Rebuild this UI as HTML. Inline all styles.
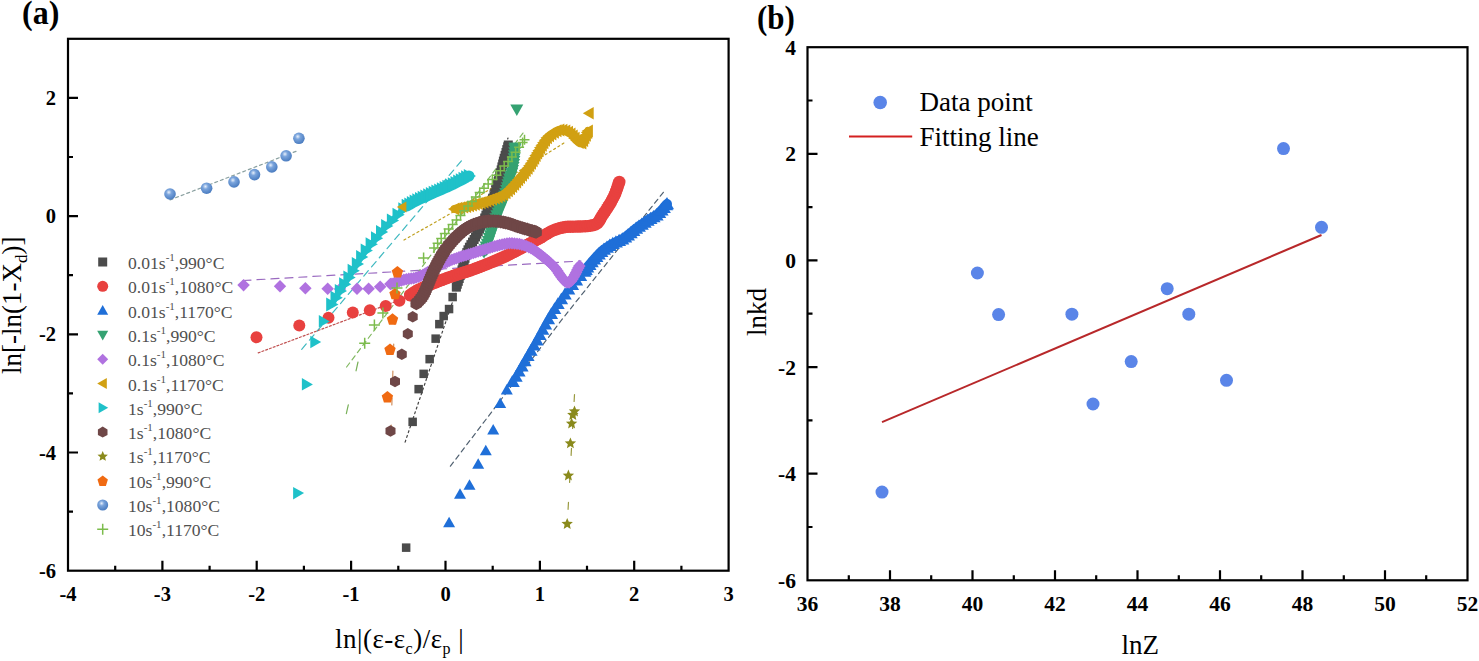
<!DOCTYPE html><html><head><meta charset="utf-8"><style>html,body{margin:0;padding:0;background:#fff;width:1479px;height:661px;overflow:hidden}svg{display:block}</style></head><body>
<svg width="1479" height="661" viewBox="0 0 1479 661" font-family="'Liberation Serif', serif">
<defs><radialGradient id="sph" cx="0.4" cy="0.35" r="0.65"><stop offset="0" stop-color="#e8f0fb"/><stop offset="0.35" stop-color="#7aa4dc"/><stop offset="1" stop-color="#4a7cc0"/></radialGradient></defs>
<polyline points="170.0,199.9 297.3,150.8" fill="none" stroke="#8aa0a0" stroke-width="1.2" stroke-linejoin="round" stroke-linecap="round" stroke-dasharray="3,3" opacity="1"/>
<polyline points="301.7,349.3 463.0,159.0" fill="none" stroke="#3fb9c0" stroke-width="1.2" stroke-linejoin="round" stroke-linecap="round" stroke-dasharray="7,5" opacity="1"/>
<polyline points="243.0,280.5 581.0,261.0" fill="none" stroke="#9a6ac0" stroke-width="1.2" stroke-linejoin="round" stroke-linecap="round" stroke-dasharray="8,6" opacity="1"/>
<polyline points="258.2,352.9 440.0,285.0" fill="none" stroke="#c05050" stroke-width="1.2" stroke-linejoin="round" stroke-linecap="round" stroke-dasharray="2,2" opacity="1"/>
<polyline points="405.1,442.1 444.5,325.6 508.0,138.0" fill="none" stroke="#444" stroke-width="1.2" stroke-linejoin="round" stroke-linecap="round" stroke-dasharray="2,3" opacity="1"/>
<polyline points="450.4,466.2 563.6,317.4 665.4,189.7" fill="none" stroke="#506070" stroke-width="1.2" stroke-linejoin="round" stroke-linecap="round" stroke-dasharray="5,4" opacity="1"/>
<polyline points="346.6,367.0 523.0,133.0" fill="none" stroke="#80b860" stroke-width="1.2" stroke-linejoin="round" stroke-linecap="round" stroke-dasharray="5,4" opacity="1"/>
<polyline points="404.0,240.0 455.0,211.0 564.0,143.0" fill="none" stroke="#c0a020" stroke-width="1.2" stroke-linejoin="round" stroke-linecap="round" stroke-dasharray="2,3" opacity="1"/>
<polyline points="391.0,432.0 396.0,270.0" fill="none" stroke="#d09060" stroke-width="1.2" stroke-linejoin="round" stroke-linecap="round" stroke-dasharray="7,20" opacity="1"/>
<polyline points="574.5,394.5 567.2,525.0" fill="none" stroke="#9a9a40" stroke-width="1.2" stroke-linejoin="round" stroke-linecap="round" stroke-dasharray="7,20" opacity="1"/>
<polyline points="358.0,362.0 344.0,424.0" fill="none" stroke="#78b058" stroke-width="1.2" stroke-linejoin="round" stroke-linecap="round" stroke-dasharray="9,35" opacity="1"/>
<rect x="401.9" y="543.4" width="8.5" height="8.5" fill="#4b4b4b"/>
<rect x="408.4" y="417.6" width="8.5" height="8.5" fill="#4b4b4b"/>
<rect x="414.4" y="384.9" width="8.5" height="8.5" fill="#4b4b4b"/>
<rect x="419.4" y="369.6" width="8.5" height="8.5" fill="#4b4b4b"/>
<rect x="425.4" y="354.9" width="8.5" height="8.5" fill="#4b4b4b"/>
<rect x="431.4" y="334.4" width="8.5" height="8.5" fill="#4b4b4b"/>
<rect x="435.1" y="319.9" width="8.5" height="8.5" fill="#4b4b4b"/>
<rect x="439.4" y="311.8" width="8.5" height="8.5" fill="#4b4b4b"/>
<rect x="444.8" y="304.8" width="8.5" height="8.5" fill="#4b4b4b"/>
<rect x="448.4" y="292.8" width="8.5" height="8.5" fill="#4b4b4b"/>
<rect x="452.1" y="282.8" width="8.5" height="8.5" fill="#4b4b4b"/>
<polyline points="456.3,287.0 456.9,285.2 457.8,282.6 458.8,279.6 459.9,276.4 461.0,273.1 462.0,270.0 462.8,267.0 463.6,264.0 464.3,260.9 465.1,257.9 465.9,254.9 467.0,252.0 468.3,249.3 469.7,246.7 471.2,244.2 472.8,241.6 474.4,238.9 476.0,236.0 477.6,232.8 479.3,229.4 481.0,225.9 482.7,222.3 484.4,218.6 486.0,215.0 487.6,211.5 489.1,208.1 490.6,204.7 492.1,201.1 493.6,197.2 495.0,193.0 496.5,188.1 497.9,182.7 499.4,177.0 500.8,171.3 502.1,166.1 503.3,161.6 504.4,157.8 505.4,154.4 506.3,151.3 507.1,148.8 507.8,146.6 508.3,145.0" fill="none" stroke="#4b4b4b" stroke-width="6" stroke-linejoin="round" stroke-linecap="round" opacity="1"/>
<rect x="451.8" y="282.5" width="9.0" height="9.0" fill="#4b4b4b"/>
<rect x="452.8" y="279.7" width="9.0" height="9.0" fill="#4b4b4b"/>
<rect x="453.8" y="276.8" width="9.0" height="9.0" fill="#4b4b4b"/>
<rect x="454.7" y="274.0" width="9.0" height="9.0" fill="#4b4b4b"/>
<rect x="455.7" y="271.1" width="9.0" height="9.0" fill="#4b4b4b"/>
<rect x="456.6" y="268.3" width="9.0" height="9.0" fill="#4b4b4b"/>
<rect x="457.5" y="265.4" width="9.0" height="9.0" fill="#4b4b4b"/>
<rect x="458.3" y="262.5" width="9.0" height="9.0" fill="#4b4b4b"/>
<rect x="459.0" y="259.6" width="9.0" height="9.0" fill="#4b4b4b"/>
<rect x="459.7" y="256.7" width="9.0" height="9.0" fill="#4b4b4b"/>
<rect x="460.5" y="253.8" width="9.0" height="9.0" fill="#4b4b4b"/>
<rect x="461.3" y="250.9" width="9.0" height="9.0" fill="#4b4b4b"/>
<rect x="462.3" y="248.1" width="9.0" height="9.0" fill="#4b4b4b"/>
<rect x="463.5" y="245.3" width="9.0" height="9.0" fill="#4b4b4b"/>
<rect x="464.9" y="242.7" width="9.0" height="9.0" fill="#4b4b4b"/>
<rect x="466.4" y="240.1" width="9.0" height="9.0" fill="#4b4b4b"/>
<rect x="468.0" y="237.6" width="9.0" height="9.0" fill="#4b4b4b"/>
<rect x="469.6" y="235.0" width="9.0" height="9.0" fill="#4b4b4b"/>
<rect x="471.0" y="232.4" width="9.0" height="9.0" fill="#4b4b4b"/>
<rect x="472.4" y="229.7" width="9.0" height="9.0" fill="#4b4b4b"/>
<rect x="473.7" y="227.0" width="9.0" height="9.0" fill="#4b4b4b"/>
<rect x="475.1" y="224.3" width="9.0" height="9.0" fill="#4b4b4b"/>
<rect x="476.4" y="221.6" width="9.0" height="9.0" fill="#4b4b4b"/>
<rect x="477.7" y="218.9" width="9.0" height="9.0" fill="#4b4b4b"/>
<rect x="478.9" y="216.2" width="9.0" height="9.0" fill="#4b4b4b"/>
<rect x="480.2" y="213.5" width="9.0" height="9.0" fill="#4b4b4b"/>
<rect x="481.4" y="210.7" width="9.0" height="9.0" fill="#4b4b4b"/>
<rect x="482.6" y="208.0" width="9.0" height="9.0" fill="#4b4b4b"/>
<rect x="483.8" y="205.3" width="9.0" height="9.0" fill="#4b4b4b"/>
<rect x="485.1" y="202.5" width="9.0" height="9.0" fill="#4b4b4b"/>
<rect x="486.3" y="199.8" width="9.0" height="9.0" fill="#4b4b4b"/>
<rect x="487.4" y="197.0" width="9.0" height="9.0" fill="#4b4b4b"/>
<rect x="488.5" y="194.2" width="9.0" height="9.0" fill="#4b4b4b"/>
<rect x="489.5" y="191.4" width="9.0" height="9.0" fill="#4b4b4b"/>
<rect x="490.5" y="188.5" width="9.0" height="9.0" fill="#4b4b4b"/>
<rect x="491.4" y="185.7" width="9.0" height="9.0" fill="#4b4b4b"/>
<rect x="492.2" y="182.8" width="9.0" height="9.0" fill="#4b4b4b"/>
<rect x="493.0" y="179.9" width="9.0" height="9.0" fill="#4b4b4b"/>
<rect x="493.7" y="177.0" width="9.0" height="9.0" fill="#4b4b4b"/>
<rect x="494.5" y="174.1" width="9.0" height="9.0" fill="#4b4b4b"/>
<rect x="495.2" y="171.2" width="9.0" height="9.0" fill="#4b4b4b"/>
<rect x="495.9" y="168.3" width="9.0" height="9.0" fill="#4b4b4b"/>
<rect x="496.7" y="165.4" width="9.0" height="9.0" fill="#4b4b4b"/>
<rect x="497.4" y="162.4" width="9.0" height="9.0" fill="#4b4b4b"/>
<rect x="498.2" y="159.5" width="9.0" height="9.0" fill="#4b4b4b"/>
<rect x="498.9" y="156.6" width="9.0" height="9.0" fill="#4b4b4b"/>
<rect x="499.7" y="153.8" width="9.0" height="9.0" fill="#4b4b4b"/>
<rect x="500.6" y="150.9" width="9.0" height="9.0" fill="#4b4b4b"/>
<rect x="501.5" y="148.0" width="9.0" height="9.0" fill="#4b4b4b"/>
<rect x="502.3" y="145.1" width="9.0" height="9.0" fill="#4b4b4b"/>
<rect x="503.2" y="142.3" width="9.0" height="9.0" fill="#4b4b4b"/>
<rect x="503.8" y="140.5" width="9.0" height="9.0" fill="#4b4b4b"/>
<circle cx="256.5" cy="337.2" r="6.0" fill="#e8413f"/>
<circle cx="299.3" cy="325.5" r="6.0" fill="#e8413f"/>
<circle cx="328.5" cy="317.7" r="6.0" fill="#e8413f"/>
<circle cx="352.8" cy="312.4" r="6.0" fill="#e8413f"/>
<circle cx="369.8" cy="310.3" r="6.0" fill="#e8413f"/>
<circle cx="385.7" cy="306.0" r="6.0" fill="#e8413f"/>
<circle cx="399.4" cy="300.8" r="6.0" fill="#e8413f"/>
<circle cx="410.0" cy="295.5" r="6.0" fill="#e8413f"/>
<polyline points="410.3,295.0 411.2,294.4 412.2,293.6 413.5,292.7 415.1,291.6 417.3,290.4 420.0,289.0 423.5,287.4 427.8,285.6 432.5,283.7 437.5,281.7 442.5,279.8 447.2,278.0 451.7,276.4 456.3,274.9 460.8,273.5 465.3,272.1 469.9,270.6 474.4,269.0 479.1,267.3 483.8,265.4 488.6,263.5 493.3,261.6 497.7,259.7 501.7,258.0 505.2,256.4 508.3,254.9 511.2,253.5 514.0,252.1 516.8,250.6 519.8,249.0 523.1,247.2 526.7,245.3 530.3,243.4 533.8,241.4 537.1,239.6 540.0,238.0 542.5,236.6 544.6,235.3 546.5,234.0 548.3,232.9 550.1,231.9 552.0,231.0 554.0,230.1 556.1,229.4 558.1,228.7 560.1,228.1 562.2,227.6 564.2,227.2 566.2,226.9 568.2,226.8 570.3,226.7 572.3,226.7 574.3,226.7 576.3,226.6 578.4,226.5 580.5,226.5 582.6,226.4 584.6,226.3 586.6,226.2 588.4,226.0 590.1,225.8 591.7,225.5 593.1,225.2 594.5,224.9 595.8,224.3 597.0,223.6 598.0,222.7 598.8,221.6 599.6,220.4 600.3,219.0 601.1,217.6 602.0,216.0 603.2,214.3 604.5,212.3 605.8,210.3 607.2,208.2 608.5,206.1 609.7,204.2 610.7,202.4 611.7,200.7 612.6,199.1 613.4,197.5 614.2,195.8 615.0,194.0 615.8,192.0 616.7,189.7 617.5,187.4 618.2,185.2 618.8,183.3 619.3,182.0" fill="none" stroke="#e8413f" stroke-width="10" stroke-linejoin="round" stroke-linecap="round" opacity="1"/>
<circle cx="410.3" cy="295.0" r="6.2" fill="#e8413f"/>
<circle cx="412.3" cy="293.5" r="6.2" fill="#e8413f"/>
<circle cx="414.4" cy="292.1" r="6.2" fill="#e8413f"/>
<circle cx="416.5" cy="290.8" r="6.2" fill="#e8413f"/>
<circle cx="418.7" cy="289.6" r="6.2" fill="#e8413f"/>
<circle cx="421.0" cy="288.6" r="6.2" fill="#e8413f"/>
<circle cx="423.3" cy="287.5" r="6.2" fill="#e8413f"/>
<circle cx="425.6" cy="286.6" r="6.2" fill="#e8413f"/>
<circle cx="427.9" cy="285.6" r="6.2" fill="#e8413f"/>
<circle cx="430.2" cy="284.6" r="6.2" fill="#e8413f"/>
<circle cx="432.5" cy="283.7" r="6.2" fill="#e8413f"/>
<circle cx="434.8" cy="282.8" r="6.2" fill="#e8413f"/>
<circle cx="437.1" cy="281.8" r="6.2" fill="#e8413f"/>
<circle cx="439.5" cy="280.9" r="6.2" fill="#e8413f"/>
<circle cx="441.8" cy="280.0" r="6.2" fill="#e8413f"/>
<circle cx="444.1" cy="279.2" r="6.2" fill="#e8413f"/>
<circle cx="446.5" cy="278.3" r="6.2" fill="#e8413f"/>
<circle cx="448.8" cy="277.4" r="6.2" fill="#e8413f"/>
<circle cx="451.2" cy="276.6" r="6.2" fill="#e8413f"/>
<circle cx="453.6" cy="275.8" r="6.2" fill="#e8413f"/>
<circle cx="455.9" cy="275.0" r="6.2" fill="#e8413f"/>
<circle cx="458.3" cy="274.3" r="6.2" fill="#e8413f"/>
<circle cx="460.7" cy="273.5" r="6.2" fill="#e8413f"/>
<circle cx="463.1" cy="272.8" r="6.2" fill="#e8413f"/>
<circle cx="465.5" cy="272.0" r="6.2" fill="#e8413f"/>
<circle cx="467.8" cy="271.3" r="6.2" fill="#e8413f"/>
<circle cx="470.2" cy="270.5" r="6.2" fill="#e8413f"/>
<circle cx="472.6" cy="269.6" r="6.2" fill="#e8413f"/>
<circle cx="474.9" cy="268.8" r="6.2" fill="#e8413f"/>
<circle cx="477.3" cy="267.9" r="6.2" fill="#e8413f"/>
<circle cx="479.6" cy="267.0" r="6.2" fill="#e8413f"/>
<circle cx="481.9" cy="266.1" r="6.2" fill="#e8413f"/>
<circle cx="484.3" cy="265.2" r="6.2" fill="#e8413f"/>
<circle cx="486.6" cy="264.3" r="6.2" fill="#e8413f"/>
<circle cx="488.9" cy="263.4" r="6.2" fill="#e8413f"/>
<circle cx="491.2" cy="262.4" r="6.2" fill="#e8413f"/>
<circle cx="493.5" cy="261.5" r="6.2" fill="#e8413f"/>
<circle cx="495.8" cy="260.5" r="6.2" fill="#e8413f"/>
<circle cx="498.1" cy="259.5" r="6.2" fill="#e8413f"/>
<circle cx="500.4" cy="258.5" r="6.2" fill="#e8413f"/>
<circle cx="502.7" cy="257.5" r="6.2" fill="#e8413f"/>
<circle cx="505.0" cy="256.5" r="6.2" fill="#e8413f"/>
<circle cx="507.3" cy="255.4" r="6.2" fill="#e8413f"/>
<circle cx="509.5" cy="254.3" r="6.2" fill="#e8413f"/>
<circle cx="511.7" cy="253.2" r="6.2" fill="#e8413f"/>
<circle cx="514.0" cy="252.1" r="6.2" fill="#e8413f"/>
<circle cx="516.2" cy="250.9" r="6.2" fill="#e8413f"/>
<circle cx="518.4" cy="249.7" r="6.2" fill="#e8413f"/>
<circle cx="520.6" cy="248.6" r="6.2" fill="#e8413f"/>
<circle cx="522.8" cy="247.4" r="6.2" fill="#e8413f"/>
<circle cx="525.0" cy="246.2" r="6.2" fill="#e8413f"/>
<circle cx="527.2" cy="245.0" r="6.2" fill="#e8413f"/>
<circle cx="529.4" cy="243.8" r="6.2" fill="#e8413f"/>
<circle cx="531.6" cy="242.6" r="6.2" fill="#e8413f"/>
<circle cx="533.8" cy="241.4" r="6.2" fill="#e8413f"/>
<circle cx="536.0" cy="240.2" r="6.2" fill="#e8413f"/>
<circle cx="538.2" cy="239.0" r="6.2" fill="#e8413f"/>
<circle cx="540.4" cy="237.8" r="6.2" fill="#e8413f"/>
<circle cx="542.5" cy="236.5" r="6.2" fill="#e8413f"/>
<circle cx="544.6" cy="235.2" r="6.2" fill="#e8413f"/>
<circle cx="546.8" cy="233.9" r="6.2" fill="#e8413f"/>
<circle cx="548.9" cy="232.6" r="6.2" fill="#e8413f"/>
<circle cx="551.1" cy="231.4" r="6.2" fill="#e8413f"/>
<circle cx="553.4" cy="230.4" r="6.2" fill="#e8413f"/>
<circle cx="555.7" cy="229.5" r="6.2" fill="#e8413f"/>
<circle cx="558.1" cy="228.7" r="6.2" fill="#e8413f"/>
<circle cx="560.5" cy="228.0" r="6.2" fill="#e8413f"/>
<circle cx="562.9" cy="227.5" r="6.2" fill="#e8413f"/>
<circle cx="565.4" cy="227.0" r="6.2" fill="#e8413f"/>
<circle cx="567.9" cy="226.8" r="6.2" fill="#e8413f"/>
<circle cx="570.4" cy="226.7" r="6.2" fill="#e8413f"/>
<circle cx="572.9" cy="226.7" r="6.2" fill="#e8413f"/>
<circle cx="575.4" cy="226.6" r="6.2" fill="#e8413f"/>
<circle cx="577.9" cy="226.5" r="6.2" fill="#e8413f"/>
<circle cx="580.4" cy="226.5" r="6.2" fill="#e8413f"/>
<circle cx="582.9" cy="226.4" r="6.2" fill="#e8413f"/>
<circle cx="585.4" cy="226.3" r="6.2" fill="#e8413f"/>
<circle cx="587.9" cy="226.1" r="6.2" fill="#e8413f"/>
<circle cx="590.3" cy="225.7" r="6.2" fill="#e8413f"/>
<circle cx="592.8" cy="225.3" r="6.2" fill="#e8413f"/>
<circle cx="595.2" cy="224.6" r="6.2" fill="#e8413f"/>
<circle cx="597.3" cy="223.3" r="6.2" fill="#e8413f"/>
<circle cx="598.9" cy="221.4" r="6.2" fill="#e8413f"/>
<circle cx="600.2" cy="219.2" r="6.2" fill="#e8413f"/>
<circle cx="601.4" cy="217.1" r="6.2" fill="#e8413f"/>
<circle cx="602.7" cy="214.9" r="6.2" fill="#e8413f"/>
<circle cx="604.1" cy="212.9" r="6.2" fill="#e8413f"/>
<circle cx="605.5" cy="210.8" r="6.2" fill="#e8413f"/>
<circle cx="606.9" cy="208.7" r="6.2" fill="#e8413f"/>
<circle cx="608.2" cy="206.6" r="6.2" fill="#e8413f"/>
<circle cx="609.5" cy="204.5" r="6.2" fill="#e8413f"/>
<circle cx="610.8" cy="202.3" r="6.2" fill="#e8413f"/>
<circle cx="612.0" cy="200.1" r="6.2" fill="#e8413f"/>
<circle cx="613.2" cy="197.9" r="6.2" fill="#e8413f"/>
<circle cx="614.3" cy="195.7" r="6.2" fill="#e8413f"/>
<circle cx="615.3" cy="193.4" r="6.2" fill="#e8413f"/>
<circle cx="616.2" cy="191.0" r="6.2" fill="#e8413f"/>
<circle cx="617.0" cy="188.7" r="6.2" fill="#e8413f"/>
<circle cx="617.8" cy="186.3" r="6.2" fill="#e8413f"/>
<circle cx="618.6" cy="184.0" r="6.2" fill="#e8413f"/>
<circle cx="619.3" cy="182.0" r="6.2" fill="#e8413f"/>
<polygon points="449.1,516.8 455.1,527.3 443.1,527.3" fill="#1f6fd8"/>
<polygon points="460.0,488.2 466.0,498.7 454.0,498.7" fill="#1f6fd8"/>
<polygon points="469.5,479.2 475.5,489.7 463.5,489.7" fill="#1f6fd8"/>
<polygon points="478.2,458.3 484.2,468.8 472.2,468.8" fill="#1f6fd8"/>
<polygon points="485.8,444.7 491.8,455.2 479.8,455.2" fill="#1f6fd8"/>
<polygon points="493.2,424.0 499.2,434.5 487.2,434.5" fill="#1f6fd8"/>
<polygon points="500.2,397.6 506.2,408.1 494.2,408.1" fill="#1f6fd8"/>
<polygon points="506.8,384.0 512.8,394.5 500.8,394.5" fill="#1f6fd8"/>
<polygon points="512.2,375.2 518.2,385.7 506.2,385.7" fill="#1f6fd8"/>
<polyline points="513.0,382.0 513.9,380.4 515.1,378.2 516.6,375.6 518.2,372.7 520.0,369.4 522.0,366.0 524.2,362.3 526.6,358.1 529.1,353.7 531.8,349.1 534.4,344.5 537.0,340.0 539.5,335.5 541.9,331.0 544.4,326.4 546.9,321.8 549.4,317.3 552.0,313.0 554.7,308.8 557.5,304.6 560.4,300.5 563.3,296.5 566.1,292.7 569.0,289.0 572.0,285.3 575.3,281.6 578.6,278.0 581.6,274.7 584.2,272.0 586.0,270.0" fill="none" stroke="#1f6fd8" stroke-width="5" stroke-linejoin="round" stroke-linecap="round" opacity="1"/>
<polygon points="513.0,375.2 519.8,387.1 506.2,387.1" fill="#1f6fd8"/>
<polygon points="515.9,370.0 522.7,381.8 509.2,381.8" fill="#1f6fd8"/>
<polygon points="518.9,364.8 525.6,376.6 512.1,376.6" fill="#1f6fd8"/>
<polygon points="521.8,359.6 528.6,371.4 515.1,371.4" fill="#1f6fd8"/>
<polygon points="524.8,354.4 531.6,366.2 518.1,366.2" fill="#1f6fd8"/>
<polygon points="527.8,349.2 534.6,361.0 521.1,361.0" fill="#1f6fd8"/>
<polygon points="530.8,344.0 537.6,355.8 524.1,355.8" fill="#1f6fd8"/>
<polygon points="533.8,338.8 540.6,350.6 527.1,350.6" fill="#1f6fd8"/>
<polygon points="536.8,333.6 543.6,345.4 530.1,345.4" fill="#1f6fd8"/>
<polygon points="539.7,328.3 546.5,340.1 533.0,340.1" fill="#1f6fd8"/>
<polygon points="542.6,323.0 549.3,334.8 535.8,334.8" fill="#1f6fd8"/>
<polygon points="545.4,317.8 552.1,329.6 538.6,329.6" fill="#1f6fd8"/>
<polygon points="548.3,312.5 555.1,324.3 541.6,324.3" fill="#1f6fd8"/>
<polygon points="551.3,307.3 558.1,319.1 544.6,319.1" fill="#1f6fd8"/>
<polygon points="554.6,302.3 561.3,314.1 547.8,314.1" fill="#1f6fd8"/>
<polygon points="557.9,297.3 564.7,309.1 551.2,309.1" fill="#1f6fd8"/>
<polygon points="561.4,292.4 568.1,304.2 554.6,304.2" fill="#1f6fd8"/>
<polygon points="564.9,287.6 571.7,299.4 558.2,299.4" fill="#1f6fd8"/>
<polygon points="568.6,282.8 575.3,294.6 561.8,294.6" fill="#1f6fd8"/>
<polygon points="572.4,278.2 579.1,290.0 565.6,290.0" fill="#1f6fd8"/>
<polygon points="576.4,273.7 583.1,285.5 569.6,285.5" fill="#1f6fd8"/>
<polygon points="580.4,269.2 587.2,281.1 573.7,281.1" fill="#1f6fd8"/>
<polygon points="584.5,264.9 591.3,276.7 577.8,276.7" fill="#1f6fd8"/>
<polygon points="586.0,263.2 592.8,275.1 579.2,275.1" fill="#1f6fd8"/>
<polyline points="585.0,270.0 586.7,268.1 589.0,265.3 591.7,262.1 594.7,258.7 597.5,255.6 600.0,253.0 602.2,251.0 604.2,249.4 606.2,247.9 608.2,246.6 610.1,245.4 612.1,244.2 614.1,243.1 616.1,242.1 618.2,241.2 620.2,240.3 622.2,239.3 624.2,238.1 626.2,236.7 628.2,235.1 630.2,233.4 632.3,231.7 634.3,230.0 636.3,228.4 638.3,226.9 640.4,225.4 642.5,224.0 644.5,222.6 646.5,221.3 648.4,220.0 650.2,218.9 651.8,217.9 653.5,217.0 655.0,216.1 656.6,215.1 658.1,213.9 659.7,212.4 661.5,210.5 663.2,208.6 664.7,206.7 666.0,205.1 667.0,204.0" fill="none" stroke="#1f6fd8" stroke-width="10" stroke-linejoin="round" stroke-linecap="round" opacity="1"/>
<polygon points="585.0,263.0 592.0,275.2 578.0,275.2" fill="#1f6fd8"/>
<polygon points="587.3,260.3 594.3,272.6 580.3,272.6" fill="#1f6fd8"/>
<polygon points="589.5,257.7 596.5,269.9 582.5,269.9" fill="#1f6fd8"/>
<polygon points="591.8,255.0 598.8,267.2 584.8,267.2" fill="#1f6fd8"/>
<polygon points="594.1,252.3 601.1,264.6 587.1,264.6" fill="#1f6fd8"/>
<polygon points="596.4,249.7 603.4,262.0 589.4,262.0" fill="#1f6fd8"/>
<polygon points="598.8,247.2 605.8,259.4 591.8,259.4" fill="#1f6fd8"/>
<polygon points="601.4,244.8 608.4,257.0 594.4,257.0" fill="#1f6fd8"/>
<polygon points="604.0,242.5 611.0,254.8 597.0,254.8" fill="#1f6fd8"/>
<polygon points="606.9,240.5 613.9,252.7 599.9,252.7" fill="#1f6fd8"/>
<polygon points="609.8,238.6 616.8,250.9 602.8,250.9" fill="#1f6fd8"/>
<polygon points="612.8,236.8 619.8,249.0 605.8,249.0" fill="#1f6fd8"/>
<polygon points="615.9,235.2 622.9,247.4 608.9,247.4" fill="#1f6fd8"/>
<polygon points="619.1,233.8 626.1,246.0 612.1,246.0" fill="#1f6fd8"/>
<polygon points="622.3,232.2 629.3,244.5 615.3,244.5" fill="#1f6fd8"/>
<polygon points="625.2,230.4 632.2,242.6 618.2,242.6" fill="#1f6fd8"/>
<polygon points="628.0,228.3 635.0,240.5 621.0,240.5" fill="#1f6fd8"/>
<polygon points="630.7,226.0 637.7,238.3 623.7,238.3" fill="#1f6fd8"/>
<polygon points="633.4,223.7 640.4,236.0 626.4,236.0" fill="#1f6fd8"/>
<polygon points="636.1,221.6 643.1,233.8 629.1,233.8" fill="#1f6fd8"/>
<polygon points="638.9,219.5 645.9,231.7 631.9,231.7" fill="#1f6fd8"/>
<polygon points="641.8,217.5 648.8,229.7 634.8,229.7" fill="#1f6fd8"/>
<polygon points="644.7,215.5 651.7,227.7 637.7,227.7" fill="#1f6fd8"/>
<polygon points="647.6,213.5 654.6,225.8 640.6,225.8" fill="#1f6fd8"/>
<polygon points="650.5,211.7 657.5,223.9 643.5,223.9" fill="#1f6fd8"/>
<polygon points="653.6,210.0 660.6,222.2 646.6,222.2" fill="#1f6fd8"/>
<polygon points="656.6,208.1 663.6,220.4 649.6,220.4" fill="#1f6fd8"/>
<polygon points="659.2,205.8 666.2,218.1 652.2,218.1" fill="#1f6fd8"/>
<polygon points="661.6,203.3 668.6,215.6 654.6,215.6" fill="#1f6fd8"/>
<polygon points="663.9,200.7 670.9,212.9 656.9,212.9" fill="#1f6fd8"/>
<polygon points="666.2,198.0 673.2,210.2 659.2,210.2" fill="#1f6fd8"/>
<polygon points="667.0,197.0 674.0,209.2 660.0,209.2" fill="#1f6fd8"/>
<polyline points="484.0,252.0 484.6,250.3 485.5,248.0 486.6,245.3 487.7,242.3 488.9,239.1 490.0,236.0 491.1,232.7 492.3,229.1 493.5,225.4 494.7,221.7 495.9,218.2 497.0,215.0 498.1,212.1 499.2,209.4 500.2,206.8 501.2,204.4 502.2,202.1 503.0,200.0 503.8,198.0 504.4,196.3 505.0,194.7 505.6,193.1 506.1,191.6 506.6,190.0 507.1,188.3 507.4,186.7 507.8,185.0 508.2,183.3 508.6,181.7 509.0,180.0 509.5,178.3 510.2,176.7 510.8,175.0 511.4,173.3 512.0,171.7 512.5,170.0 512.9,168.4 513.2,166.8 513.4,165.2 513.6,163.5 513.8,161.8 514.0,160.0 514.2,157.9 514.4,155.5 514.6,153.1 514.8,150.8 514.9,148.8 515.0,147.4" fill="none" stroke="#35a272" stroke-width="9" stroke-linejoin="round" stroke-linecap="round" opacity="1"/>
<polygon points="484.0,258.5 490.5,247.1 477.5,247.1" fill="#35a272"/>
<polygon points="485.1,255.7 491.6,244.3 478.6,244.3" fill="#35a272"/>
<polygon points="486.1,252.9 492.6,241.5 479.6,241.5" fill="#35a272"/>
<polygon points="487.2,250.1 493.7,238.7 480.7,238.7" fill="#35a272"/>
<polygon points="488.3,247.3 494.8,235.9 481.8,235.9" fill="#35a272"/>
<polygon points="489.3,244.5 495.8,233.1 482.8,233.1" fill="#35a272"/>
<polygon points="490.3,241.6 496.8,230.3 483.8,230.3" fill="#35a272"/>
<polygon points="491.3,238.8 497.8,227.4 484.8,227.4" fill="#35a272"/>
<polygon points="492.2,235.9 498.7,224.6 485.7,224.6" fill="#35a272"/>
<polygon points="493.1,233.1 499.6,221.7 486.6,221.7" fill="#35a272"/>
<polygon points="494.1,230.2 500.6,218.9 487.6,218.9" fill="#35a272"/>
<polygon points="495.0,227.4 501.5,216.0 488.5,216.0" fill="#35a272"/>
<polygon points="495.9,224.5 502.4,213.2 489.4,213.2" fill="#35a272"/>
<polygon points="496.9,221.7 503.4,210.3 490.4,210.3" fill="#35a272"/>
<polygon points="498.0,218.9 504.5,207.5 491.5,207.5" fill="#35a272"/>
<polygon points="499.1,216.1 505.6,204.7 492.6,204.7" fill="#35a272"/>
<polygon points="500.2,213.3 506.7,202.0 493.7,202.0" fill="#35a272"/>
<polygon points="501.4,210.6 507.9,199.2 494.9,199.2" fill="#35a272"/>
<polygon points="502.5,207.8 509.0,196.4 496.0,196.4" fill="#35a272"/>
<polygon points="503.6,205.0 510.1,193.6 497.1,193.6" fill="#35a272"/>
<polygon points="504.7,202.2 511.2,190.8 498.2,190.8" fill="#35a272"/>
<polygon points="505.7,199.4 512.2,188.0 499.2,188.0" fill="#35a272"/>
<polygon points="506.6,196.5 513.1,185.1 500.1,185.1" fill="#35a272"/>
<polygon points="507.3,193.6 513.8,182.2 500.8,182.2" fill="#35a272"/>
<polygon points="508.0,190.7 514.5,179.3 501.5,179.3" fill="#35a272"/>
<polygon points="508.7,187.8 515.2,176.4 502.2,176.4" fill="#35a272"/>
<polygon points="509.5,184.9 516.0,173.5 503.0,173.5" fill="#35a272"/>
<polygon points="510.6,182.1 517.1,170.7 504.1,170.7" fill="#35a272"/>
<polygon points="511.6,179.3 518.1,167.9 505.1,167.9" fill="#35a272"/>
<polygon points="512.5,176.4 519.0,165.0 506.0,165.0" fill="#35a272"/>
<polygon points="513.1,173.5 519.6,162.1 506.6,162.1" fill="#35a272"/>
<polygon points="513.6,170.5 520.1,159.1 507.1,159.1" fill="#35a272"/>
<polygon points="513.9,167.5 520.4,156.1 507.4,156.1" fill="#35a272"/>
<polygon points="514.2,164.5 520.7,153.2 507.7,153.2" fill="#35a272"/>
<polygon points="514.4,161.5 520.9,150.2 507.9,150.2" fill="#35a272"/>
<polygon points="514.7,158.5 521.2,147.2 508.2,147.2" fill="#35a272"/>
<polygon points="514.9,155.6 521.4,144.2 508.4,144.2" fill="#35a272"/>
<polygon points="515.0,153.9 521.5,142.5 508.5,142.5" fill="#35a272"/>
<polygon points="516.8,115.9 523.3,104.5 510.3,104.5" fill="#35a272"/>
<polygon points="243.6,278.9 249.8,285.1 243.6,291.4 237.3,285.1" fill="#b072e0"/>
<polygon points="280.0,280.1 286.2,286.3 280.0,292.6 273.8,286.3" fill="#b072e0"/>
<polygon points="305.4,282.1 311.6,288.3 305.4,294.6 299.1,288.3" fill="#b072e0"/>
<polygon points="327.7,282.6 333.9,288.8 327.7,295.1 321.4,288.8" fill="#b072e0"/>
<polygon points="340.0,282.8 346.2,289.0 340.0,295.2 333.8,289.0" fill="#b072e0"/>
<polygon points="357.0,282.6 363.2,288.8 357.0,295.1 350.8,288.8" fill="#b072e0"/>
<polygon points="368.6,282.6 374.9,288.8 368.6,295.1 362.4,288.8" fill="#b072e0"/>
<polygon points="380.2,280.6 386.4,286.8 380.2,293.1 373.9,286.8" fill="#b072e0"/>
<polygon points="390.4,277.8 396.6,284.0 390.4,290.2 384.1,284.0" fill="#b072e0"/>
<polyline points="392.0,283.8 393.4,283.3 395.2,282.7 397.4,281.9 399.8,281.1 402.3,280.3 404.7,279.6 407.0,279.1 409.2,278.8 411.4,278.5 413.9,278.1 416.7,277.4 420.0,276.2 423.8,274.4 428.2,272.0 432.9,269.3 437.7,266.5 442.5,263.9 447.2,261.7 451.7,259.9 456.3,258.2 460.8,256.8 465.3,255.4 469.9,254.0 474.4,252.6 479.1,251.1 484.0,249.6 488.8,248.0 493.5,246.6 497.9,245.4 501.7,244.5 504.9,243.9 507.5,243.5 509.9,243.3 512.0,243.3 514.0,243.4 516.2,243.6 518.4,243.9 520.6,244.3 522.8,244.9 524.9,245.6 526.9,246.3 528.9,247.2 530.8,248.1 532.6,249.2 534.4,250.3 536.2,251.5 538.0,252.9 540.0,254.4 542.2,256.1 544.4,257.9 546.8,259.9 549.1,262.0 551.5,264.2 553.9,266.5 556.3,269.4 558.7,272.9 561.1,276.6 563.5,279.8 565.8,282.1 568.0,283.0 570.2,281.9 572.4,279.2 574.6,275.5 576.5,271.6 578.2,268.2 579.4,266.0" fill="none" stroke="#b072e0" stroke-width="9" stroke-linejoin="round" stroke-linecap="round" opacity="1"/>
<polygon points="392.0,277.6 398.2,283.8 392.0,290.1 385.8,283.8" fill="#b072e0"/>
<polygon points="394.4,276.7 400.6,283.0 394.4,289.2 388.1,283.0" fill="#b072e0"/>
<polygon points="396.7,275.9 403.0,282.1 396.7,288.4 390.5,282.1" fill="#b072e0"/>
<polygon points="399.1,275.1 405.3,281.3 399.1,287.6 392.8,281.3" fill="#b072e0"/>
<polygon points="401.5,274.3 407.7,280.6 401.5,286.8 395.2,280.6" fill="#b072e0"/>
<polygon points="403.9,273.6 410.1,279.8 403.9,286.1 397.6,279.8" fill="#b072e0"/>
<polygon points="406.3,273.0 412.5,279.3 406.3,285.5 400.0,279.3" fill="#b072e0"/>
<polygon points="408.8,272.6 415.0,278.9 408.8,285.1 402.5,278.9" fill="#b072e0"/>
<polygon points="411.2,272.3 417.5,278.6 411.2,284.8 405.0,278.6" fill="#b072e0"/>
<polygon points="413.7,271.9 420.0,278.2 413.7,284.4 407.5,278.2" fill="#b072e0"/>
<polygon points="416.1,271.3 422.4,277.6 416.1,283.8 409.9,277.6" fill="#b072e0"/>
<polygon points="418.5,270.5 424.7,276.8 418.5,283.0 412.2,276.8" fill="#b072e0"/>
<polygon points="420.8,269.6 427.1,275.8 420.8,282.1 414.6,275.8" fill="#b072e0"/>
<polygon points="423.1,268.5 429.3,274.7 423.1,281.0 416.8,274.7" fill="#b072e0"/>
<polygon points="425.3,267.3 431.5,273.6 425.3,279.8 419.0,273.6" fill="#b072e0"/>
<polygon points="427.5,266.1 433.7,272.4 427.5,278.6 421.2,272.4" fill="#b072e0"/>
<polygon points="429.6,264.9 435.9,271.2 429.6,277.4 423.4,271.2" fill="#b072e0"/>
<polygon points="431.8,263.7 438.1,269.9 431.8,276.2 425.6,269.9" fill="#b072e0"/>
<polygon points="434.0,262.4 440.2,268.7 434.0,274.9 427.7,268.7" fill="#b072e0"/>
<polygon points="436.2,261.2 442.4,267.4 436.2,273.7 429.9,267.4" fill="#b072e0"/>
<polygon points="438.3,259.9 444.6,266.2 438.3,272.4 432.1,266.2" fill="#b072e0"/>
<polygon points="440.5,258.8 446.8,265.0 440.5,271.3 434.3,265.0" fill="#b072e0"/>
<polygon points="442.7,257.6 449.0,263.8 442.7,270.1 436.5,263.8" fill="#b072e0"/>
<polygon points="445.0,256.5 451.2,262.8 445.0,269.0 438.7,262.8" fill="#b072e0"/>
<polygon points="447.3,255.4 453.5,261.7 447.3,267.9 441.0,261.7" fill="#b072e0"/>
<polygon points="449.6,254.5 455.8,260.7 449.6,267.0 443.3,260.7" fill="#b072e0"/>
<polygon points="451.9,253.6 458.1,259.8 451.9,266.1 445.6,259.8" fill="#b072e0"/>
<polygon points="454.2,252.7 460.5,259.0 454.2,265.2 448.0,259.0" fill="#b072e0"/>
<polygon points="456.6,251.9 462.8,258.1 456.6,264.4 450.3,258.1" fill="#b072e0"/>
<polygon points="459.0,251.1 465.2,257.3 459.0,263.6 452.7,257.3" fill="#b072e0"/>
<polygon points="461.3,250.3 467.6,256.6 461.3,262.8 455.1,256.6" fill="#b072e0"/>
<polygon points="463.7,249.6 470.0,255.8 463.7,262.1 457.5,255.8" fill="#b072e0"/>
<polygon points="466.1,248.9 472.4,255.1 466.1,261.4 459.9,255.1" fill="#b072e0"/>
<polygon points="468.5,248.1 474.8,254.4 468.5,260.6 462.3,254.4" fill="#b072e0"/>
<polygon points="470.9,247.4 477.2,253.7 470.9,259.9 464.7,253.7" fill="#b072e0"/>
<polygon points="473.3,246.7 479.6,252.9 473.3,259.2 467.1,252.9" fill="#b072e0"/>
<polygon points="475.7,245.9 481.9,252.2 475.7,258.4 469.4,252.2" fill="#b072e0"/>
<polygon points="478.1,245.2 484.3,251.4 478.1,257.7 471.8,251.4" fill="#b072e0"/>
<polygon points="480.5,244.4 486.7,250.7 480.5,256.9 474.2,250.7" fill="#b072e0"/>
<polygon points="482.8,243.7 489.1,249.9 482.8,256.2 476.6,249.9" fill="#b072e0"/>
<polygon points="485.2,242.9 491.5,249.2 485.2,255.4 479.0,249.2" fill="#b072e0"/>
<polygon points="487.6,242.2 493.9,248.4 487.6,254.7 481.4,248.4" fill="#b072e0"/>
<polygon points="490.0,241.4 496.3,247.7 490.0,253.9 483.8,247.7" fill="#b072e0"/>
<polygon points="492.4,240.7 498.6,247.0 492.4,253.2 486.1,247.0" fill="#b072e0"/>
<polygon points="494.8,240.0 501.0,246.3 494.8,252.5 488.5,246.3" fill="#b072e0"/>
<polygon points="497.2,239.4 503.5,245.6 497.2,251.9 491.0,245.6" fill="#b072e0"/>
<polygon points="499.6,238.8 505.9,245.0 499.6,251.3 493.4,245.0" fill="#b072e0"/>
<polygon points="502.1,238.2 508.3,244.4 502.1,250.7 495.8,244.4" fill="#b072e0"/>
<polygon points="504.5,237.7 510.8,244.0 504.5,250.2 498.3,244.0" fill="#b072e0"/>
<polygon points="507.0,237.3 513.2,243.6 507.0,249.8 500.7,243.6" fill="#b072e0"/>
<polygon points="509.5,237.1 515.7,243.3 509.5,249.6 503.2,243.3" fill="#b072e0"/>
<polygon points="512.0,237.1 518.2,243.3 512.0,249.6 505.7,243.3" fill="#b072e0"/>
<polygon points="514.5,237.2 520.7,243.4 514.5,249.7 508.2,243.4" fill="#b072e0"/>
<polygon points="517.0,237.5 523.2,243.7 517.0,250.0 510.7,243.7" fill="#b072e0"/>
<polygon points="519.4,237.8 525.7,244.1 519.4,250.3 513.2,244.1" fill="#b072e0"/>
<polygon points="521.9,238.4 528.1,244.7 521.9,250.9 515.6,244.7" fill="#b072e0"/>
<polygon points="524.3,239.1 530.5,245.4 524.3,251.6 518.0,245.4" fill="#b072e0"/>
<polygon points="526.6,240.0 532.9,246.2 526.6,252.5 520.4,246.2" fill="#b072e0"/>
<polygon points="528.9,241.0 535.2,247.2 528.9,253.5 522.7,247.2" fill="#b072e0"/>
<polygon points="531.1,242.1 537.4,248.3 531.1,254.6 524.9,248.3" fill="#b072e0"/>
<polygon points="533.3,243.3 539.5,249.6 533.3,255.8 527.0,249.6" fill="#b072e0"/>
<polygon points="535.4,244.7 541.6,251.0 535.4,257.2 529.1,251.0" fill="#b072e0"/>
<polygon points="537.4,246.2 543.7,252.4 537.4,258.7 531.2,252.4" fill="#b072e0"/>
<polygon points="539.4,247.7 545.7,253.9 539.4,260.2 533.2,253.9" fill="#b072e0"/>
<polygon points="541.4,249.2 547.6,255.5 541.4,261.7 535.1,255.5" fill="#b072e0"/>
<polygon points="543.3,250.8 549.6,257.0 543.3,263.3 537.1,257.0" fill="#b072e0"/>
<polygon points="545.3,252.4 551.5,258.6 545.3,264.9 539.0,258.6" fill="#b072e0"/>
<polygon points="547.2,254.0 553.4,260.2 547.2,266.5 540.9,260.2" fill="#b072e0"/>
<polygon points="549.1,255.6 555.3,261.9 549.1,268.1 542.8,261.9" fill="#b072e0"/>
<polygon points="550.9,257.3 557.1,263.6 550.9,269.8 544.6,263.6" fill="#b072e0"/>
<polygon points="552.7,259.1 558.9,265.3 552.7,271.6 546.4,265.3" fill="#b072e0"/>
<polygon points="554.4,260.9 560.7,267.1 554.4,273.4 548.2,267.1" fill="#b072e0"/>
<polygon points="556.0,262.8 562.2,269.1 556.0,275.3 549.7,269.1" fill="#b072e0"/>
<polygon points="557.4,264.8 563.7,271.1 557.4,277.3 551.2,271.1" fill="#b072e0"/>
<polygon points="558.8,266.9 565.1,273.2 558.8,279.4 552.6,273.2" fill="#b072e0"/>
<polygon points="560.2,269.0 566.5,275.2 560.2,281.5 554.0,275.2" fill="#b072e0"/>
<polygon points="561.6,271.1 567.9,277.3 561.6,283.6 555.4,277.3" fill="#b072e0"/>
<polygon points="563.1,273.1 569.4,279.3 563.1,285.6 556.9,279.3" fill="#b072e0"/>
<polygon points="564.8,274.9 571.1,281.1 564.8,287.4 558.6,281.1" fill="#b072e0"/>
<polygon points="566.8,276.3 573.1,282.5 566.8,288.8 560.6,282.5" fill="#b072e0"/>
<polygon points="569.1,276.2 575.4,282.4 569.1,288.7 562.9,282.4" fill="#b072e0"/>
<polygon points="571.0,274.7 577.3,280.9 571.0,287.2 564.8,280.9" fill="#b072e0"/>
<polygon points="572.6,272.7 578.8,278.9 572.6,285.2 566.3,278.9" fill="#b072e0"/>
<polygon points="573.8,270.5 580.1,276.8 573.8,283.0 567.6,276.8" fill="#b072e0"/>
<polygon points="575.0,268.4 581.3,274.6 575.0,280.9 568.8,274.6" fill="#b072e0"/>
<polygon points="576.2,266.1 582.4,272.4 576.2,278.6 569.9,272.4" fill="#b072e0"/>
<polygon points="577.3,263.9 583.5,270.1 577.3,276.4 571.0,270.1" fill="#b072e0"/>
<polygon points="578.4,261.6 584.6,267.9 578.4,274.1 572.1,267.9" fill="#b072e0"/>
<polygon points="579.4,259.8 585.6,266.0 579.4,272.2 573.1,266.0" fill="#b072e0"/>
<polyline points="454.5,209.0 456.9,208.5 460.4,207.7 464.4,206.8 468.7,205.9 472.8,204.9 476.3,204.0 479.3,203.2 482.1,202.4 484.7,201.5 487.2,200.7 489.6,199.9 492.0,199.0 494.3,198.2 496.5,197.4 498.7,196.6 500.8,195.7 502.9,194.6 505.0,193.2 507.2,191.4 509.4,189.4 511.6,187.2 513.7,184.8 515.9,182.4 518.0,180.0 520.1,177.6 522.2,175.1 524.2,172.6 526.3,170.1 528.2,167.5 530.0,165.0 531.7,162.5 533.3,159.9 534.8,157.3 536.2,154.8 537.6,152.3 539.0,150.0 540.4,147.8 541.7,145.6 543.0,143.5 544.2,141.6 545.4,139.8 546.6,138.3 547.7,137.0 548.8,136.0 549.8,135.1 550.9,134.4 551.9,133.7 553.0,133.0 554.1,132.3 555.2,131.6 556.3,131.0 557.4,130.4 558.7,130.1 560.0,130.0 561.5,130.1 563.1,130.4 564.8,130.8 566.6,131.5 568.3,132.3 570.0,133.3 571.7,134.8 573.5,136.7 575.3,138.9 577.0,140.9 578.6,142.5 580.0,143.3 581.1,143.2 582.1,142.4 582.9,141.2 583.7,139.7 584.3,138.2 585.0,137.0 585.7,135.9 586.3,134.8 586.8,133.6 587.3,132.5 587.7,131.6 588.0,131.0" fill="none" stroke="#d1a012" stroke-width="8" stroke-linejoin="round" stroke-linecap="round" opacity="1"/>
<polygon points="448.0,209.0 459.4,202.5 459.4,215.5" fill="#d1a012"/>
<polygon points="450.9,208.3 462.3,201.8 462.3,214.8" fill="#d1a012"/>
<polygon points="453.9,207.7 465.2,201.2 465.2,214.2" fill="#d1a012"/>
<polygon points="456.8,207.1 468.2,200.6 468.2,213.6" fill="#d1a012"/>
<polygon points="459.7,206.4 471.1,199.9 471.1,212.9" fill="#d1a012"/>
<polygon points="462.6,205.7 474.0,199.2 474.0,212.2" fill="#d1a012"/>
<polygon points="465.6,205.1 476.9,198.6 476.9,211.6" fill="#d1a012"/>
<polygon points="468.5,204.3 479.8,197.8 479.8,210.8" fill="#d1a012"/>
<polygon points="471.4,203.6 482.7,197.1 482.7,210.1" fill="#d1a012"/>
<polygon points="474.3,202.7 485.6,196.2 485.6,209.2" fill="#d1a012"/>
<polygon points="477.1,201.9 488.5,195.4 488.5,208.4" fill="#d1a012"/>
<polygon points="480.0,201.0 491.4,194.5 491.4,207.5" fill="#d1a012"/>
<polygon points="482.8,200.0 494.2,193.5 494.2,206.5" fill="#d1a012"/>
<polygon points="485.6,198.9 497.0,192.4 497.0,205.4" fill="#d1a012"/>
<polygon points="488.5,197.9 499.8,191.4 499.8,204.4" fill="#d1a012"/>
<polygon points="491.3,196.9 502.7,190.4 502.7,203.4" fill="#d1a012"/>
<polygon points="494.1,195.8 505.4,189.3 505.4,202.3" fill="#d1a012"/>
<polygon points="496.7,194.4 508.1,187.9 508.1,200.9" fill="#d1a012"/>
<polygon points="499.2,192.7 510.5,186.2 510.5,199.2" fill="#d1a012"/>
<polygon points="501.5,190.7 512.8,184.2 512.8,197.2" fill="#d1a012"/>
<polygon points="503.6,188.7 515.0,182.2 515.0,195.2" fill="#d1a012"/>
<polygon points="505.7,186.5 517.1,180.0 517.1,193.0" fill="#d1a012"/>
<polygon points="507.7,184.3 519.1,177.8 519.1,190.8" fill="#d1a012"/>
<polygon points="509.7,182.0 521.1,175.5 521.1,188.5" fill="#d1a012"/>
<polygon points="511.7,179.8 523.1,173.3 523.1,186.3" fill="#d1a012"/>
<polygon points="513.7,177.5 525.0,171.0 525.0,184.0" fill="#d1a012"/>
<polygon points="515.6,175.2 527.0,168.7 527.0,181.7" fill="#d1a012"/>
<polygon points="517.5,172.9 528.9,166.4 528.9,179.4" fill="#d1a012"/>
<polygon points="519.4,170.6 530.7,164.1 530.7,177.1" fill="#d1a012"/>
<polygon points="521.2,168.2 532.6,161.7 532.6,174.7" fill="#d1a012"/>
<polygon points="523.0,165.8 534.3,159.3 534.3,172.3" fill="#d1a012"/>
<polygon points="524.7,163.3 536.0,156.8 536.0,169.8" fill="#d1a012"/>
<polygon points="526.2,160.7 537.6,154.2 537.6,167.2" fill="#d1a012"/>
<polygon points="527.8,158.2 539.2,151.7 539.2,164.7" fill="#d1a012"/>
<polygon points="529.3,155.5 540.6,149.0 540.6,162.0" fill="#d1a012"/>
<polygon points="530.8,152.9 542.1,146.4 542.1,159.4" fill="#d1a012"/>
<polygon points="532.3,150.4 543.7,143.9 543.7,156.9" fill="#d1a012"/>
<polygon points="533.8,147.8 545.2,141.3 545.2,154.3" fill="#d1a012"/>
<polygon points="535.4,145.2 546.8,138.7 546.8,151.7" fill="#d1a012"/>
<polygon points="537.0,142.7 548.4,136.2 548.4,149.2" fill="#d1a012"/>
<polygon points="538.7,140.2 550.0,133.7 550.0,146.7" fill="#d1a012"/>
<polygon points="540.5,137.8 551.9,131.3 551.9,144.3" fill="#d1a012"/>
<polygon points="542.6,135.7 554.0,129.2 554.0,142.2" fill="#d1a012"/>
<polygon points="545.0,133.9 556.4,127.4 556.4,140.4" fill="#d1a012"/>
<polygon points="547.6,132.3 558.9,125.8 558.9,138.8" fill="#d1a012"/>
<polygon points="550.1,130.8 561.5,124.3 561.5,137.3" fill="#d1a012"/>
<polygon points="553.0,130.0 564.4,123.5 564.4,136.5" fill="#d1a012"/>
<polygon points="556.0,130.3 567.4,123.8 567.4,136.8" fill="#d1a012"/>
<polygon points="558.9,131.0 570.3,124.5 570.3,137.5" fill="#d1a012"/>
<polygon points="561.7,132.2 573.0,125.7 573.0,138.7" fill="#d1a012"/>
<polygon points="564.2,133.9 575.5,127.4 575.5,140.4" fill="#d1a012"/>
<polygon points="566.3,135.9 577.7,129.4 577.7,142.4" fill="#d1a012"/>
<polygon points="568.2,138.2 579.6,131.7 579.6,144.7" fill="#d1a012"/>
<polygon points="570.2,140.5 581.6,134.0 581.6,147.0" fill="#d1a012"/>
<polygon points="572.3,142.6 583.7,136.1 583.7,149.1" fill="#d1a012"/>
<polygon points="575.0,142.9 586.4,136.4 586.4,149.4" fill="#d1a012"/>
<polygon points="576.8,140.5 588.1,134.0 588.1,147.0" fill="#d1a012"/>
<polygon points="578.1,137.8 589.4,131.3 589.4,144.3" fill="#d1a012"/>
<polygon points="579.5,135.2 590.9,128.7 590.9,141.7" fill="#d1a012"/>
<polygon points="580.8,132.5 592.2,126.0 592.2,139.0" fill="#d1a012"/>
<polygon points="581.5,131.0 592.9,124.5 592.9,137.5" fill="#d1a012"/>
<polygon points="582.8,113.3 593.7,107.0 593.7,119.5" fill="#d1a012"/>
<polygon points="304.1,493.1 293.1,486.9 293.1,499.4" fill="#1fc1c9"/>
<polygon points="312.9,384.4 301.9,378.1 301.9,390.6" fill="#1fc1c9"/>
<polygon points="321.2,342.0 310.3,335.8 310.3,348.2" fill="#1fc1c9"/>
<polygon points="329.8,321.4 318.8,315.1 318.8,327.6" fill="#1fc1c9"/>
<polyline points="331.5,304.5 332.4,303.0 333.7,301.0 335.2,298.5 336.9,295.9 338.5,293.3 340.0,291.0 341.4,288.9 342.7,286.8 344.1,284.7 345.4,282.7 346.7,280.6 348.0,278.6 349.3,276.5 350.6,274.4 351.8,272.4 353.1,270.3 354.3,268.3 355.5,266.3 356.7,264.4 357.9,262.5 359.0,260.7 360.2,258.9 361.3,257.1 362.5,255.4 363.7,253.7 364.8,252.1 366.0,250.5 367.2,248.9 368.3,247.4 369.5,245.9 370.6,244.5 371.8,243.2 372.9,242.0 374.1,240.8 375.2,239.4 376.5,238.0 377.8,236.4 379.2,234.6 380.7,232.8 382.1,230.9 383.6,229.1 385.0,227.5 386.4,226.0 387.7,224.6 389.1,223.3 390.4,222.0 391.7,220.7 393.0,219.5 394.2,218.3 395.4,217.1 396.6,215.9 397.7,214.8 398.8,213.6 400.0,212.5 401.2,211.3 402.6,210.1 403.9,208.8 405.2,207.7 406.2,206.7 407.0,206.0" fill="none" stroke="#1fc1c9" stroke-width="6" stroke-linejoin="round" stroke-linecap="round" opacity="1"/>
<polygon points="338.5,304.5 326.2,297.5 326.2,311.5" fill="#1fc1c9"/>
<polygon points="342.8,297.7 330.5,290.7 330.5,304.7" fill="#1fc1c9"/>
<polygon points="347.0,291.0 334.8,284.0 334.8,298.0" fill="#1fc1c9"/>
<polygon points="351.4,284.2 339.1,277.2 339.1,291.2" fill="#1fc1c9"/>
<polygon points="355.7,277.5 343.4,270.5 343.4,284.5" fill="#1fc1c9"/>
<polygon points="359.8,270.7 347.6,263.7 347.6,277.7" fill="#1fc1c9"/>
<polygon points="364.0,263.9 351.8,256.9 351.8,270.9" fill="#1fc1c9"/>
<polygon points="368.3,257.1 356.1,250.1 356.1,264.1" fill="#1fc1c9"/>
<polygon points="372.9,250.6 360.7,243.6 360.7,257.6" fill="#1fc1c9"/>
<polygon points="377.9,244.3 365.6,237.3 365.6,251.3" fill="#1fc1c9"/>
<polygon points="383.2,238.3 371.0,231.3 371.0,245.3" fill="#1fc1c9"/>
<polygon points="388.2,232.1 376.0,225.1 376.0,239.1" fill="#1fc1c9"/>
<polygon points="393.4,226.0 381.1,219.0 381.1,233.0" fill="#1fc1c9"/>
<polygon points="399.1,220.4 386.9,213.4 386.9,227.4" fill="#1fc1c9"/>
<polygon points="404.7,214.7 392.5,207.7 392.5,221.7" fill="#1fc1c9"/>
<polygon points="410.5,209.2 398.3,202.2 398.3,216.2" fill="#1fc1c9"/>
<polygon points="414.0,206.0 401.8,199.0 401.8,213.0" fill="#1fc1c9"/>
<polyline points="407.0,206.0 407.9,205.5 409.1,204.8 410.5,203.9 412.2,202.9 414.1,201.9 416.3,200.8 418.8,199.6 421.7,198.3 424.8,196.9 428.0,195.4 431.3,194.0 434.4,192.6 437.5,191.2 440.6,189.9 443.7,188.5 446.8,187.2 449.8,185.8 452.6,184.5 455.4,183.1 458.1,181.7 460.8,180.3 463.3,179.0 465.4,177.9 467.0,177.0 468.1,176.4 468.7,176.1 468.9,176.0 468.9,176.0 468.9,176.0 469.0,176.0" fill="none" stroke="#1fc1c9" stroke-width="11" stroke-linejoin="round" stroke-linecap="round" opacity="1"/>
<polygon points="414.0,206.0 401.8,199.0 401.8,213.0" fill="#1fc1c9"/>
<polygon points="416.6,204.5 404.3,197.5 404.3,211.5" fill="#1fc1c9"/>
<polygon points="419.2,203.0 406.9,196.0 406.9,210.0" fill="#1fc1c9"/>
<polygon points="421.8,201.6 409.6,194.6 409.6,208.6" fill="#1fc1c9"/>
<polygon points="424.5,200.2 412.3,193.2 412.3,207.2" fill="#1fc1c9"/>
<polygon points="427.2,199.0 415.0,192.0 415.0,206.0" fill="#1fc1c9"/>
<polygon points="430.0,197.7 417.7,190.7 417.7,204.7" fill="#1fc1c9"/>
<polygon points="432.7,196.5 420.4,189.5 420.4,203.5" fill="#1fc1c9"/>
<polygon points="435.4,195.3 423.2,188.3 423.2,202.3" fill="#1fc1c9"/>
<polygon points="438.2,194.0 425.9,187.0 425.9,201.0" fill="#1fc1c9"/>
<polygon points="440.9,192.8 428.7,185.8 428.7,199.8" fill="#1fc1c9"/>
<polygon points="443.7,191.6 431.4,184.6 431.4,198.6" fill="#1fc1c9"/>
<polygon points="446.4,190.4 434.2,183.4 434.2,197.4" fill="#1fc1c9"/>
<polygon points="449.2,189.2 436.9,182.2 436.9,196.2" fill="#1fc1c9"/>
<polygon points="451.9,188.0 439.7,181.0 439.7,195.0" fill="#1fc1c9"/>
<polygon points="454.6,186.8 442.4,179.8 442.4,193.8" fill="#1fc1c9"/>
<polygon points="457.4,185.5 445.1,178.5 445.1,192.5" fill="#1fc1c9"/>
<polygon points="460.1,184.3 447.8,177.3 447.8,191.3" fill="#1fc1c9"/>
<polygon points="462.8,182.9 450.5,175.9 450.5,189.9" fill="#1fc1c9"/>
<polygon points="465.4,181.6 453.2,174.6 453.2,188.6" fill="#1fc1c9"/>
<polygon points="468.1,180.2 455.8,173.2 455.8,187.2" fill="#1fc1c9"/>
<polygon points="470.7,178.7 458.5,171.7 458.5,185.7" fill="#1fc1c9"/>
<polygon points="473.4,177.3 461.1,170.3 461.1,184.3" fill="#1fc1c9"/>
<polygon points="476.0,176.0 463.8,169.0 463.8,183.0" fill="#1fc1c9"/>
<polygon points="396.8,207.0 406.4,201.5 406.4,212.5" fill="#d1a012"/>
<polygon points="390.5,436.8 385.5,433.9 385.5,428.1 390.5,425.2 395.5,428.1 395.5,433.9" fill="#6f4747"/>
<polygon points="395.0,387.2 390.0,384.4 390.0,378.6 395.0,375.8 400.0,378.6 400.0,384.4" fill="#6f4747"/>
<polygon points="401.8,360.1 396.8,357.3 396.8,351.5 401.8,348.6 406.8,351.5 406.8,357.3" fill="#6f4747"/>
<polygon points="407.8,339.6 402.8,336.7 402.8,330.9 407.8,328.1 412.8,330.9 412.8,336.7" fill="#6f4747"/>
<polygon points="412.7,322.6 407.7,319.8 407.7,314.0 412.7,311.1 417.7,314.0 417.7,319.8" fill="#6f4747"/>
<polygon points="416.3,309.2 411.3,306.4 411.3,300.6 416.3,297.8 421.3,300.6 421.3,306.4" fill="#6f4747"/>
<polyline points="416.3,303.5 417.1,302.7 418.1,301.7 419.3,300.5 420.6,299.0 422.1,297.0 423.6,294.4 425.2,291.1 426.9,287.0 428.7,282.5 430.6,277.8 432.5,273.2 434.5,269.0 436.4,265.1 438.4,261.3 440.4,257.6 442.5,254.1 444.7,250.6 447.2,247.2 449.9,243.8 452.9,240.5 456.0,237.2 459.1,234.1 462.3,231.4 465.4,229.0 468.4,227.1 471.4,225.5 474.4,224.3 477.5,223.3 480.5,222.5 483.5,221.8 486.5,221.3 489.6,221.1 492.6,221.0 495.6,221.1 498.7,221.4 501.7,221.8 504.7,222.4 507.8,223.2 510.9,224.2 513.9,225.2 516.9,226.3 519.8,227.2 522.8,228.1 525.9,229.0 529.0,229.9 531.9,230.8 534.3,231.5 536.0,232.0" fill="none" stroke="#6f4747" stroke-width="11" stroke-linejoin="round" stroke-linecap="round" opacity="1"/>
<polygon points="416.3,310.2 410.5,306.9 410.5,300.1 416.3,296.8 422.1,300.1 422.1,306.9" fill="#6f4747"/>
<polygon points="418.1,308.5 412.2,305.1 412.2,298.4 418.1,295.0 423.9,298.4 423.9,305.1" fill="#6f4747"/>
<polygon points="419.8,306.7 414.0,303.3 414.0,296.6 419.8,293.2 425.6,296.6 425.6,303.3" fill="#6f4747"/>
<polygon points="421.4,304.7 415.5,301.4 415.5,294.6 421.4,291.2 427.2,294.6 427.2,301.4" fill="#6f4747"/>
<polygon points="422.7,302.6 416.9,299.3 416.9,292.5 422.7,289.1 428.6,292.5 428.6,299.3" fill="#6f4747"/>
<polygon points="423.9,300.5 418.1,297.1 418.1,290.3 423.9,287.0 429.8,290.3 429.8,297.1" fill="#6f4747"/>
<polygon points="425.0,298.2 419.2,294.8 419.2,288.1 425.0,284.7 430.9,288.1 430.9,294.8" fill="#6f4747"/>
<polygon points="426.0,295.9 420.2,292.5 420.2,285.8 426.0,282.4 431.8,285.8 431.8,292.5" fill="#6f4747"/>
<polygon points="427.0,293.6 421.1,290.2 421.1,283.5 427.0,280.1 432.8,283.5 432.8,290.2" fill="#6f4747"/>
<polygon points="427.9,291.3 422.1,287.9 422.1,281.2 427.9,277.8 433.7,281.2 433.7,287.9" fill="#6f4747"/>
<polygon points="428.8,289.0 423.0,285.6 423.0,278.8 428.8,275.5 434.7,278.8 434.7,285.6" fill="#6f4747"/>
<polygon points="429.8,286.6 423.9,283.3 423.9,276.5 429.8,273.1 435.6,276.5 435.6,283.3" fill="#6f4747"/>
<polygon points="430.7,284.3 424.9,280.9 424.9,274.2 430.7,270.8 436.5,274.2 436.5,280.9" fill="#6f4747"/>
<polygon points="431.7,282.0 425.8,278.6 425.8,271.9 431.7,268.5 437.5,271.9 437.5,278.6" fill="#6f4747"/>
<polygon points="432.7,279.7 426.8,276.3 426.8,269.6 432.7,266.2 438.5,269.6 438.5,276.3" fill="#6f4747"/>
<polygon points="433.7,277.5 427.9,274.1 427.9,267.3 433.7,264.0 439.6,267.3 439.6,274.1" fill="#6f4747"/>
<polygon points="434.8,275.2 428.9,271.8 428.9,265.1 434.8,261.7 440.6,265.1 440.6,271.8" fill="#6f4747"/>
<polygon points="435.9,273.0 430.1,269.6 430.1,262.8 435.9,259.5 441.7,262.8 441.7,269.6" fill="#6f4747"/>
<polygon points="437.0,270.7 431.2,267.4 431.2,260.6 437.0,257.2 442.9,260.6 442.9,267.4" fill="#6f4747"/>
<polygon points="438.2,268.5 432.3,265.1 432.3,258.4 438.2,255.0 444.0,258.4 444.0,265.1" fill="#6f4747"/>
<polygon points="439.4,266.3 433.5,262.9 433.5,256.2 439.4,252.8 445.2,256.2 445.2,262.9" fill="#6f4747"/>
<polygon points="440.6,264.1 434.7,260.7 434.7,254.0 440.6,250.6 446.4,254.0 446.4,260.7" fill="#6f4747"/>
<polygon points="441.8,262.0 436.0,258.6 436.0,251.8 441.8,248.5 447.7,251.8 447.7,258.6" fill="#6f4747"/>
<polygon points="443.1,259.8 437.3,256.4 437.3,249.7 443.1,246.3 449.0,249.7 449.0,256.4" fill="#6f4747"/>
<polygon points="444.5,257.7 438.6,254.4 438.6,247.6 444.5,244.2 450.3,247.6 450.3,254.4" fill="#6f4747"/>
<polygon points="445.9,255.7 440.1,252.3 440.1,245.6 445.9,242.2 451.8,245.6 451.8,252.3" fill="#6f4747"/>
<polygon points="447.4,253.7 441.6,250.3 441.6,243.6 447.4,240.2 453.3,243.6 453.3,250.3" fill="#6f4747"/>
<polygon points="449.0,251.7 443.1,248.4 443.1,241.6 449.0,238.2 454.8,241.6 454.8,248.4" fill="#6f4747"/>
<polygon points="450.6,249.8 444.7,246.4 444.7,239.7 450.6,236.3 456.4,239.7 456.4,246.4" fill="#6f4747"/>
<polygon points="452.2,247.9 446.4,244.6 446.4,237.8 452.2,234.4 458.1,237.8 458.1,244.6" fill="#6f4747"/>
<polygon points="453.9,246.1 448.1,242.7 448.1,236.0 453.9,232.6 459.8,236.0 459.8,242.7" fill="#6f4747"/>
<polygon points="455.6,244.3 449.8,240.9 449.8,234.1 455.6,230.8 461.5,234.1 461.5,240.9" fill="#6f4747"/>
<polygon points="457.4,242.5 451.6,239.1 451.6,232.4 457.4,229.0 463.3,232.4 463.3,239.1" fill="#6f4747"/>
<polygon points="459.2,240.8 453.4,237.4 453.4,230.7 459.2,227.3 465.1,230.7 465.1,237.4" fill="#6f4747"/>
<polygon points="461.1,239.1 455.3,235.8 455.3,229.0 461.1,225.6 467.0,229.0 467.0,235.8" fill="#6f4747"/>
<polygon points="463.0,237.5 457.2,234.2 457.2,227.4 463.0,224.0 468.9,227.4 468.9,234.2" fill="#6f4747"/>
<polygon points="465.0,236.0 459.2,232.7 459.2,225.9 465.0,222.5 470.9,225.9 470.9,232.7" fill="#6f4747"/>
<polygon points="467.1,234.7 461.3,231.3 461.3,224.5 467.1,221.2 473.0,224.5 473.0,231.3" fill="#6f4747"/>
<polygon points="469.3,233.4 463.4,230.0 463.4,223.3 469.3,219.9 475.1,223.3 475.1,230.0" fill="#6f4747"/>
<polygon points="471.5,232.2 465.6,228.9 465.6,222.1 471.5,218.7 477.3,222.1 477.3,228.9" fill="#6f4747"/>
<polygon points="473.8,231.3 468.0,227.9 468.0,221.2 473.8,217.8 479.6,221.2 479.6,227.9" fill="#6f4747"/>
<polygon points="476.2,230.4 470.3,227.1 470.3,220.3 476.2,216.9 482.0,220.3 482.0,227.1" fill="#6f4747"/>
<polygon points="478.5,229.7 472.7,226.3 472.7,219.6 478.5,216.2 484.4,219.6 484.4,226.3" fill="#6f4747"/>
<polygon points="481.0,229.1 475.1,225.7 475.1,219.0 481.0,215.6 486.8,219.0 486.8,225.7" fill="#6f4747"/>
<polygon points="483.4,228.6 477.6,225.2 477.6,218.4 483.4,215.1 489.3,218.4 489.3,225.2" fill="#6f4747"/>
<polygon points="485.9,228.2 480.0,224.8 480.0,218.0 485.9,214.7 491.7,218.0 491.7,224.8" fill="#6f4747"/>
<polygon points="488.4,227.9 482.5,224.5 482.5,217.8 488.4,214.4 494.2,217.8 494.2,224.5" fill="#6f4747"/>
<polygon points="490.9,227.8 485.0,224.4 485.0,217.7 490.9,214.3 496.7,217.7 496.7,224.4" fill="#6f4747"/>
<polygon points="493.4,227.8 487.5,224.4 487.5,217.7 493.4,214.3 499.2,217.7 499.2,224.4" fill="#6f4747"/>
<polygon points="495.9,227.9 490.0,224.5 490.0,217.8 495.9,214.4 501.7,217.8 501.7,224.5" fill="#6f4747"/>
<polygon points="498.3,228.1 492.5,224.7 492.5,218.0 498.3,214.6 504.2,218.0 504.2,224.7" fill="#6f4747"/>
<polygon points="500.8,228.4 495.0,225.1 495.0,218.3 500.8,214.9 506.7,218.3 506.7,225.1" fill="#6f4747"/>
<polygon points="503.3,228.9 497.4,225.5 497.4,218.7 503.3,215.4 509.1,218.7 509.1,225.5" fill="#6f4747"/>
<polygon points="505.7,229.4 499.9,226.0 499.9,219.3 505.7,215.9 511.6,219.3 511.6,226.0" fill="#6f4747"/>
<polygon points="508.1,230.1 502.3,226.7 502.3,219.9 508.1,216.6 514.0,219.9 514.0,226.7" fill="#6f4747"/>
<polygon points="510.5,230.8 504.7,227.5 504.7,220.7 510.5,217.3 516.4,220.7 516.4,227.5" fill="#6f4747"/>
<polygon points="512.9,231.6 507.0,228.3 507.0,221.5 512.9,218.1 518.7,221.5 518.7,228.3" fill="#6f4747"/>
<polygon points="515.2,232.5 509.4,229.1 509.4,222.3 515.2,219.0 521.1,222.3 521.1,229.1" fill="#6f4747"/>
<polygon points="517.6,233.3 511.8,229.9 511.8,223.1 517.6,219.8 523.5,223.1 523.5,229.9" fill="#6f4747"/>
<polygon points="520.0,234.0 514.1,230.6 514.1,223.9 520.0,220.5 525.8,223.9 525.8,230.6" fill="#6f4747"/>
<polygon points="522.4,234.7 516.5,231.3 516.5,224.6 522.4,221.2 528.2,224.6 528.2,231.3" fill="#6f4747"/>
<polygon points="524.8,235.4 518.9,232.1 518.9,225.3 524.8,221.9 530.6,225.3 530.6,232.1" fill="#6f4747"/>
<polygon points="527.2,236.1 521.3,232.8 521.3,226.0 527.2,222.6 533.0,226.0 533.0,232.8" fill="#6f4747"/>
<polygon points="529.6,236.9 523.7,233.5 523.7,226.7 529.6,223.4 535.4,226.7 535.4,233.5" fill="#6f4747"/>
<polygon points="532.0,237.6 526.1,234.2 526.1,227.4 532.0,224.1 537.8,227.4 537.8,234.2" fill="#6f4747"/>
<polygon points="534.4,238.3 528.5,234.9 528.5,228.1 534.4,224.8 540.2,228.1 540.2,234.9" fill="#6f4747"/>
<polygon points="536.0,238.8 530.2,235.4 530.2,228.6 536.0,225.2 541.8,228.6 541.8,235.4" fill="#6f4747"/>
<polygon points="574.5,405.5 576.1,409.3 580.2,409.6 577.1,412.3 578.0,416.4 574.5,414.2 571.0,416.4 571.9,412.3 568.8,409.6 572.9,409.3" fill="#8a8a1c"/>
<polygon points="572.8,409.0 574.4,412.8 578.5,413.1 575.4,415.8 576.3,419.9 572.8,417.7 569.3,419.9 570.2,415.8 567.1,413.1 571.2,412.8" fill="#8a8a1c"/>
<polygon points="571.6,417.6 573.2,421.4 577.3,421.7 574.2,424.4 575.1,428.5 571.6,426.3 568.1,428.5 569.0,424.4 565.9,421.7 570.0,421.4" fill="#8a8a1c"/>
<polygon points="570.4,437.4 572.0,441.2 576.1,441.5 573.0,444.2 573.9,448.3 570.4,446.1 566.9,448.3 567.8,444.2 564.7,441.5 568.8,441.2" fill="#8a8a1c"/>
<polygon points="568.4,469.6 570.0,473.4 574.1,473.7 571.0,476.4 571.9,480.5 568.4,478.3 564.9,480.5 565.8,476.4 562.7,473.7 566.8,473.4" fill="#8a8a1c"/>
<polygon points="567.2,518.0 568.8,521.8 572.9,522.1 569.8,524.8 570.7,528.9 567.2,526.7 563.7,528.9 564.6,524.8 561.5,522.1 565.6,521.8" fill="#8a8a1c"/>
<polygon points="397.4,266.1 403.1,270.5 400.9,277.5 393.9,277.5 391.7,270.5" fill="#f06a12"/>
<polygon points="395.0,287.9 400.7,292.3 398.5,299.3 391.5,299.3 389.3,292.3" fill="#f06a12"/>
<polygon points="392.5,313.3 398.2,317.7 396.0,324.7 389.0,324.7 386.8,317.7" fill="#f06a12"/>
<polygon points="390.0,343.6 395.7,348.0 393.5,355.0 386.5,355.0 384.3,348.0" fill="#f06a12"/>
<polygon points="387.4,391.0 393.1,395.4 390.9,402.4 383.9,402.4 381.7,395.4" fill="#f06a12"/>
<circle cx="170.0" cy="194.0" r="5.8" fill="url(#sph)"/>
<circle cx="206.6" cy="188.2" r="5.8" fill="url(#sph)"/>
<circle cx="234.0" cy="181.9" r="5.8" fill="url(#sph)"/>
<circle cx="254.5" cy="174.6" r="5.8" fill="url(#sph)"/>
<circle cx="271.8" cy="166.9" r="5.8" fill="url(#sph)"/>
<circle cx="286.1" cy="155.8" r="5.8" fill="url(#sph)"/>
<circle cx="298.9" cy="138.3" r="5.8" fill="url(#sph)"/>
<path d="M359.2 343.2H370.2M364.7 337.7V348.7" stroke="#7cbc4c" stroke-width="1.5" fill="none"/>
<path d="M368.9 325.0H379.9M374.4 319.5V330.5" stroke="#7cbc4c" stroke-width="1.5" fill="none"/>
<path d="M377.4 313.0H388.4M382.9 307.5V318.5" stroke="#7cbc4c" stroke-width="1.5" fill="none"/>
<path d="M391.5 288.0H402.5M397.0 282.5V293.5" stroke="#7cbc4c" stroke-width="1.5" fill="none"/>
<path d="M418.1 258.0H429.1M423.6 252.5V263.5" stroke="#7cbc4c" stroke-width="1.5" fill="none"/>
<path d="M429.0 248.0H439.0M434.0 243.0V253.0" stroke="#7cbc4c" stroke-width="1.5" fill="none"/>
<path d="M432.6 243.2H442.6M437.6 238.2V248.2" stroke="#7cbc4c" stroke-width="1.5" fill="none"/>
<path d="M436.2 238.4H446.2M441.2 233.4V243.4" stroke="#7cbc4c" stroke-width="1.5" fill="none"/>
<path d="M439.8 233.6H449.8M444.8 228.6V238.6" stroke="#7cbc4c" stroke-width="1.5" fill="none"/>
<path d="M443.6 229.0H453.6M448.6 224.0V234.0" stroke="#7cbc4c" stroke-width="1.5" fill="none"/>
<path d="M447.6 224.5H457.6M452.6 219.5V229.5" stroke="#7cbc4c" stroke-width="1.5" fill="none"/>
<path d="M451.5 220.0H461.5M456.5 215.0V225.0" stroke="#7cbc4c" stroke-width="1.5" fill="none"/>
<path d="M455.5 215.4H465.5M460.5 210.4V220.4" stroke="#7cbc4c" stroke-width="1.5" fill="none"/>
<path d="M459.3 210.8H469.3M464.3 205.8V215.8" stroke="#7cbc4c" stroke-width="1.5" fill="none"/>
<path d="M463.1 206.1H473.1M468.1 201.1V211.1" stroke="#7cbc4c" stroke-width="1.5" fill="none"/>
<path d="M466.9 201.6H476.9M471.9 196.6V206.6" stroke="#7cbc4c" stroke-width="1.5" fill="none"/>
<path d="M470.8 197.0H480.8M475.8 192.0V202.0" stroke="#7cbc4c" stroke-width="1.5" fill="none"/>
<path d="M474.7 192.4H484.7M479.7 187.4V197.4" stroke="#7cbc4c" stroke-width="1.5" fill="none"/>
<path d="M479.0 188.2H489.0M484.0 183.2V193.2" stroke="#7cbc4c" stroke-width="1.5" fill="none"/>
<path d="M483.2 183.9H493.2M488.2 178.9V188.9" stroke="#7cbc4c" stroke-width="1.5" fill="none"/>
<path d="M487.4 179.6H497.4M492.4 174.6V184.6" stroke="#7cbc4c" stroke-width="1.5" fill="none"/>
<path d="M491.5 175.2H501.5M496.5 170.2V180.2" stroke="#7cbc4c" stroke-width="1.5" fill="none"/>
<path d="M495.4 170.7H505.4M500.4 165.7V175.7" stroke="#7cbc4c" stroke-width="1.5" fill="none"/>
<path d="M499.2 166.1H509.2M504.2 161.1V171.1" stroke="#7cbc4c" stroke-width="1.5" fill="none"/>
<path d="M503.1 161.5H513.1M508.1 156.5V166.5" stroke="#7cbc4c" stroke-width="1.5" fill="none"/>
<path d="M506.9 156.9H516.9M511.9 151.9V161.9" stroke="#7cbc4c" stroke-width="1.5" fill="none"/>
<path d="M510.6 152.2H520.6M515.6 147.2V157.2" stroke="#7cbc4c" stroke-width="1.5" fill="none"/>
<path d="M514.1 147.3H524.1M519.1 142.3V152.3" stroke="#7cbc4c" stroke-width="1.5" fill="none"/>
<path d="M517.6 142.4H527.6M522.6 137.4V147.4" stroke="#7cbc4c" stroke-width="1.5" fill="none"/>
<path d="M519.5 139.8H529.5M524.5 134.8V144.8" stroke="#7cbc4c" stroke-width="1.5" fill="none"/>
<g stroke="#000" stroke-width="2.2" fill="none">
<rect x="68" y="38.8" width="660.6" height="531.9"/>
<path d="M115.2 570.7V565.7 M162.4 570.7V560.7 M209.6 570.7V565.7 M256.7 570.7V560.7 M303.9 570.7V565.7 M351.1 570.7V560.7 M398.3 570.7V565.7 M445.5 570.7V560.7 M492.7 570.7V565.7 M539.9 570.7V560.7 M587.0 570.7V565.7 M634.2 570.7V560.7 M681.4 570.7V565.7 M68 511.6H73 M68 452.5H78 M68 393.4H73 M68 334.3H78 M68 275.2H73 M68 216.1H78 M68 157.0H73 M68 97.9H78"/>
</g>
<g font-weight="bold" font-size="20.5" fill="#000">
<text x="68.0" y="600.5" text-anchor="middle">-4</text>
<text x="162.4" y="600.5" text-anchor="middle">-3</text>
<text x="256.7" y="600.5" text-anchor="middle">-2</text>
<text x="351.1" y="600.5" text-anchor="middle">-1</text>
<text x="445.5" y="600.5" text-anchor="middle">0</text>
<text x="539.9" y="600.5" text-anchor="middle">1</text>
<text x="634.2" y="600.5" text-anchor="middle">2</text>
<text x="728.6" y="600.5" text-anchor="middle">3</text>
<text x="56" y="104.9" text-anchor="end">2</text>
<text x="56" y="223.1" text-anchor="end">0</text>
<text x="56" y="341.3" text-anchor="end">-2</text>
<text x="56" y="459.5" text-anchor="end">-4</text>
<text x="56" y="577.7" text-anchor="end">-6</text>
</g>
<text x="22" y="29" font-size="32" font-weight="bold" transform="translate(0,-7) scale(1,1.07)">(a)</text>
<text x="335" y="648" font-size="27" letter-spacing="0.5">ln|(ε-ε<tspan font-size="16" dy="6">c</tspan><tspan dy="-6">)/ε</tspan><tspan font-size="16" dy="6">p</tspan><tspan dy="-6"> |</tspan></text>
<text transform="translate(20.5,374) rotate(-90)" font-size="27">ln[-ln(1-X<tspan font-size="17" dy="6">d</tspan><tspan dy="-6">)]</tspan></text>
<g font-size="17.6" fill="#505050">
<rect x="98.2" y="257.5" width="9.0" height="9.0" fill="#4b4b4b"/>
<text x="128" y="269.0">0.01s<tspan font-size="11" dy="-8">-1</tspan><tspan dy="8">,990°C</tspan></text>
<circle cx="102.7" cy="286.3" r="5.5" fill="#e8413f"/>
<text x="128" y="293.3">0.01s<tspan font-size="11" dy="-8">-1</tspan><tspan dy="8">,1080°C</tspan></text>
<polygon points="102.7,305.1 108.2,314.7 97.2,314.7" fill="#1f6fd8"/>
<text x="128" y="317.6">0.01s<tspan font-size="11" dy="-8">-1</tspan><tspan dy="8">,1170°C</tspan></text>
<polygon points="102.7,340.4 108.2,330.8 97.2,330.8" fill="#35a272"/>
<text x="128" y="341.9">0.1s<tspan font-size="11" dy="-8">-1</tspan><tspan dy="8">,990°C</tspan></text>
<polygon points="102.7,353.7 108.2,359.2 102.7,364.7 97.2,359.2" fill="#b072e0"/>
<text x="128" y="366.2">0.1s<tspan font-size="11" dy="-8">-1</tspan><tspan dy="8">,1080°C</tspan></text>
<polygon points="97.2,383.5 106.8,378.0 106.8,389.0" fill="#d1a012"/>
<text x="128" y="390.5">0.1s<tspan font-size="11" dy="-8">-1</tspan><tspan dy="8">,1170°C</tspan></text>
<polygon points="108.2,407.8 98.6,402.3 98.6,413.3" fill="#1fc1c9"/>
<text x="128" y="414.8">1s<tspan font-size="11" dy="-8">-1</tspan><tspan dy="8">,990°C</tspan></text>
<polygon points="102.7,437.6 97.9,434.9 97.9,429.4 102.7,426.6 107.5,429.4 107.5,434.9" fill="#6f4747"/>
<text x="128" y="439.1">1s<tspan font-size="11" dy="-8">-1</tspan><tspan dy="8">,1080°C</tspan></text>
<polygon points="102.7,450.9 104.2,454.4 107.9,454.7 105.1,457.2 105.9,460.8 102.7,458.9 99.5,460.8 100.3,457.2 97.5,454.7 101.2,454.4" fill="#8a8a1c"/>
<text x="128" y="463.4">1s<tspan font-size="11" dy="-8">-1</tspan><tspan dy="8">,1170°C</tspan></text>
<polygon points="102.7,475.5 107.9,479.5 105.9,485.9 99.5,485.9 97.5,479.5" fill="#f06a12"/>
<text x="128" y="487.7">10s<tspan font-size="11" dy="-8">-1</tspan><tspan dy="8">,990°C</tspan></text>
<circle cx="102.7" cy="505.0" r="5.5" fill="url(#sph)"/>
<text x="128" y="512.0">10s<tspan font-size="11" dy="-8">-1</tspan><tspan dy="8">,1080°C</tspan></text>
<path d="M97.2 529.3H108.2M102.7 523.8V534.8" stroke="#7cbc4c" stroke-width="1.5" fill="none"/>
<text x="128" y="536.3">10s<tspan font-size="11" dy="-8">-1</tspan><tspan dy="8">,1170°C</tspan></text>
</g>
<line x1="882" y1="422.2" x2="1321.5" y2="235" stroke="#b8282a" stroke-width="2"/>
<circle cx="882" cy="492.1" r="6.5" fill="#5a85e8"/>
<circle cx="977.4" cy="273" r="6.5" fill="#5a85e8"/>
<circle cx="998.6" cy="314.6" r="6.5" fill="#5a85e8"/>
<circle cx="1071.9" cy="314.2" r="6.5" fill="#5a85e8"/>
<circle cx="1093" cy="404" r="6.5" fill="#5a85e8"/>
<circle cx="1131.2" cy="361.6" r="6.5" fill="#5a85e8"/>
<circle cx="1167.2" cy="288.7" r="6.5" fill="#5a85e8"/>
<circle cx="1188.8" cy="314.2" r="6.5" fill="#5a85e8"/>
<circle cx="1226.5" cy="380.3" r="6.5" fill="#5a85e8"/>
<circle cx="1283.5" cy="148.6" r="6.5" fill="#5a85e8"/>
<circle cx="1321.5" cy="227.3" r="6.5" fill="#5a85e8"/>
<g stroke="#000" stroke-width="2.2" fill="none">
<rect x="807.5" y="47.2" width="660" height="533.1"/>
<path d="M848.8 580.3V575.3 M890.0 580.3V570.3 M931.2 580.3V575.3 M972.5 580.3V570.3 M1013.8 580.3V575.3 M1055.0 580.3V570.3 M1096.2 580.3V575.3 M1137.5 580.3V570.3 M1178.8 580.3V575.3 M1220.0 580.3V570.3 M1261.2 580.3V575.3 M1302.5 580.3V570.3 M1343.8 580.3V575.3 M1385.0 580.3V570.3 M1426.2 580.3V575.3 M807.5 527.0H812.5 M807.5 473.7H817.5 M807.5 420.4H812.5 M807.5 367.1H817.5 M807.5 313.7H812.5 M807.5 260.4H817.5 M807.5 207.1H812.5 M807.5 153.8H817.5 M807.5 100.5H812.5"/>
</g>
<g font-weight="bold" font-size="21.5" fill="#000">
<text x="807.5" y="610.5" text-anchor="middle">36</text>
<text x="890.0" y="610.5" text-anchor="middle">38</text>
<text x="972.5" y="610.5" text-anchor="middle">40</text>
<text x="1055.0" y="610.5" text-anchor="middle">42</text>
<text x="1137.5" y="610.5" text-anchor="middle">44</text>
<text x="1220.0" y="610.5" text-anchor="middle">46</text>
<text x="1302.5" y="610.5" text-anchor="middle">48</text>
<text x="1385.0" y="610.5" text-anchor="middle">50</text>
<text x="1467.5" y="610.5" text-anchor="middle">52</text>
<text x="796" y="54.7" text-anchor="end">4</text>
<text x="796" y="161.3" text-anchor="end">2</text>
<text x="796" y="267.9" text-anchor="end">0</text>
<text x="796" y="374.6" text-anchor="end">-2</text>
<text x="796" y="481.2" text-anchor="end">-4</text>
<text x="796" y="587.8" text-anchor="end">-6</text>
</g>
<text x="757" y="31" font-size="31" font-weight="bold" transform="translate(0,-4) scale(1,1.07)">(b)</text>
<text x="1121.5" y="653.6" font-size="27">lnZ</text>
<text transform="translate(765.6,336) rotate(-90)" font-size="27">lnkd</text>
<circle cx="880.2" cy="102.5" r="6.8" fill="#5a85e8"/>
<text x="919.5" y="111.4" font-size="27">Data point</text>
<line x1="849" y1="136.5" x2="912.2" y2="136.5" stroke="#d42020" stroke-width="2.2"/>
<text x="919.5" y="145.5" font-size="27">Fitting line</text>
</svg></body></html>
